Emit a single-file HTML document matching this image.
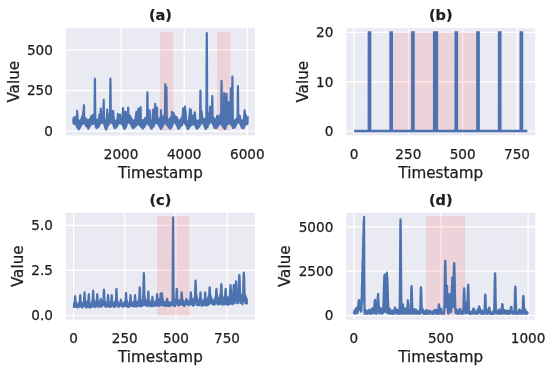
<!DOCTYPE html>
<html><head><meta charset="utf-8"><title>Figure</title>
<style>
html,body{margin:0;padding:0;background:#fff;}
svg{display:block;}
text{font-family:"DejaVu Sans","Liberation Sans",sans-serif;fill:#1e1e1e;stroke:#1e1e1e;stroke-width:0.25px;}
</style></head><body>
<svg width="550" height="372" viewBox="0 0 550 372">
<rect width="550" height="372" fill="#fff"/>
<rect x="65.8" y="28.1" width="189.2" height="107.30000000000001" fill="#eaeaf2"/>
<line x1="121.1" x2="121.1" y1="28.1" y2="135.4" stroke="#fff" stroke-width="1.3"/>
<line x1="184.2" x2="184.2" y1="28.1" y2="135.4" stroke="#fff" stroke-width="1.3"/>
<line x1="247.3" x2="247.3" y1="28.1" y2="135.4" stroke="#fff" stroke-width="1.3"/>
<line x1="65.8" x2="255.0" y1="49.95" y2="49.95" stroke="#fff" stroke-width="1.3"/>
<line x1="65.8" x2="255.0" y1="90.5" y2="90.5" stroke="#fff" stroke-width="1.3"/>
<line x1="65.8" x2="255.0" y1="131.05" y2="131.05" stroke="#fff" stroke-width="1.3"/>
<rect x="159.8" y="32.1" width="13.5" height="98.95000000000002" fill="#ff0000" fill-opacity="0.1"/>
<rect x="217.0" y="32.1" width="13.599999999999994" height="98.95000000000002" fill="#ff0000" fill-opacity="0.1"/>
<clipPath id="ca"><rect x="65.8" y="28.1" width="189.2" height="107.30000000000001"/></clipPath>
<polyline clip-path="url(#ca)" points="73.30,123.38 73.42,118.59 73.55,123.58 73.67,118.21 73.80,123.20 73.92,118.00 74.05,123.70 74.17,117.35 74.30,123.84 74.42,117.97 74.55,123.92 74.67,117.29 74.80,124.09 74.92,117.39 75.05,123.44 75.17,117.68 75.30,123.18 75.42,118.78 75.55,122.97 75.67,119.43 75.80,123.68 75.92,119.71 76.05,124.27 76.17,119.69 76.30,125.18 76.42,119.16 76.55,125.74 76.67,119.52 76.80,125.70 76.92,114.67 77.05,126.67 77.17,110.94 77.30,127.61 77.42,113.43 77.55,127.09 77.67,118.29 77.80,128.09 77.92,121.51 78.05,127.90 78.17,121.18 78.30,128.65 78.42,121.65 78.55,128.92 78.67,121.44 78.80,129.43 78.92,120.95 79.05,128.74 79.17,120.64 79.30,128.47 79.42,121.42 79.55,127.60 79.67,121.22 79.80,127.35 79.92,121.20 80.05,127.49 80.17,121.16 80.30,126.81 80.42,120.71 80.55,126.32 80.67,120.73 80.80,126.29 80.92,120.05 81.05,125.72 81.17,119.28 81.30,124.94 81.42,118.72 81.55,124.41 81.67,118.63 81.80,123.41 81.92,117.87 82.05,122.92 82.17,116.49 82.30,122.59 82.42,116.92 82.55,123.14 82.67,116.09 82.80,123.58 82.92,114.33 83.05,122.49 83.17,111.98 83.30,122.50 83.42,110.83 83.55,121.96 83.67,110.06 83.80,108.48 83.92,105.20 84.05,108.48 84.17,116.02 84.30,123.42 84.42,117.62 84.55,123.68 84.67,118.20 84.80,123.62 84.92,118.30 85.05,123.97 85.17,119.99 85.30,124.22 85.42,119.64 85.55,124.52 85.67,118.34 85.80,125.22 85.92,119.03 86.05,126.03 86.17,120.29 86.30,125.77 86.42,121.06 86.55,126.17 86.67,121.46 86.80,126.21 86.92,121.13 87.05,126.67 87.17,121.56 87.30,126.94 87.42,121.33 87.55,127.00 87.67,120.61 87.80,127.68 87.92,119.79 88.05,127.85 88.17,120.69 88.30,128.68 88.42,120.84 88.55,128.65 88.67,120.23 88.80,127.56 88.92,120.29 89.05,126.95 89.17,120.69 89.30,127.02 89.42,121.01 89.55,126.49 89.67,120.79 89.80,126.03 89.92,119.81 90.05,125.96 90.17,118.63 90.30,125.64 90.42,118.04 90.55,124.93 90.67,118.06 90.80,123.91 90.92,117.99 91.05,124.23 91.17,116.86 91.30,123.72 91.42,115.89 91.55,123.42 91.67,116.27 91.80,123.87 91.92,116.96 92.05,123.94 92.17,117.10 92.30,123.36 92.42,116.63 92.55,123.37 92.67,116.59 92.80,123.72 92.92,115.18 93.05,123.40 93.17,115.13 93.30,123.56 93.42,115.33 93.55,123.77 93.67,116.64 93.80,123.22 93.92,117.13 94.05,123.09 94.17,116.83 94.30,123.23 94.42,116.95 94.55,115.61 94.67,100.62 94.80,85.34 94.92,78.70 95.05,85.34 95.17,100.62 95.30,115.61 95.42,119.52 95.55,125.85 95.67,120.10 95.80,127.00 95.92,120.78 96.05,127.57 96.17,121.39 96.30,127.78 96.42,120.58 96.55,128.18 96.67,120.68 96.80,127.81 96.92,119.92 97.05,127.45 97.17,120.49 97.30,127.31 97.42,120.67 97.55,127.40 97.67,120.68 97.80,127.54 97.92,120.66 98.05,127.23 98.17,120.04 98.30,126.93 98.42,119.27 98.55,126.48 98.67,120.86 98.80,126.37 98.92,118.07 99.05,125.24 99.17,115.60 99.30,124.90 99.42,114.29 99.55,124.06 99.67,116.95 99.80,124.40 99.92,119.46 100.05,124.05 100.17,119.26 100.30,123.68 100.42,117.33 100.55,117.94 100.67,111.36 100.80,108.50 100.92,111.36 101.05,117.94 101.17,113.08 101.30,122.21 101.42,111.94 101.55,121.84 101.67,112.45 101.80,122.51 101.92,115.72 102.05,122.83 102.17,116.43 102.30,122.78 102.42,114.75 102.55,122.44 102.67,116.87 102.80,122.78 102.92,118.55 103.05,122.78 103.17,118.69 103.30,121.86 103.42,112.94 103.55,103.85 103.67,99.90 103.80,103.85 103.92,112.94 104.05,121.86 104.17,119.43 104.30,124.76 104.42,119.83 104.55,125.29 104.67,120.73 104.80,126.56 104.92,121.09 105.05,127.30 105.17,121.19 105.30,127.68 105.42,121.59 105.55,128.59 105.67,121.20 105.80,129.40 105.92,121.03 106.05,129.79 106.17,121.73 106.30,129.09 106.42,121.74 106.55,128.20 106.67,117.12 106.80,128.47 106.92,112.71 107.05,126.90 107.17,109.54 107.30,126.67 107.42,112.42 107.55,125.58 107.67,117.04 107.80,125.52 107.92,120.57 108.05,125.57 108.17,120.50 108.30,125.10 108.42,120.57 108.55,124.69 108.67,120.33 108.80,124.32 108.92,118.67 109.05,123.87 109.17,115.35 109.30,123.84 109.42,114.06 109.55,122.91 109.67,116.04 109.80,122.88 109.92,119.47 110.05,115.61 110.17,100.62 110.30,85.34 110.42,78.70 110.55,85.34 110.67,100.62 110.80,115.61 110.92,119.21 111.05,122.30 111.17,118.47 111.30,122.14 111.42,117.55 111.55,122.38 111.67,118.85 111.80,122.73 111.92,119.64 112.05,123.11 112.17,118.31 112.30,123.46 112.42,115.95 112.55,123.78 112.67,113.19 112.80,123.77 112.92,111.01 113.05,123.80 113.17,110.93 113.30,124.34 113.42,112.68 113.55,125.36 113.67,116.29 113.80,126.23 113.92,117.98 114.05,126.92 114.17,120.03 114.30,127.06 114.42,121.11 114.55,127.58 114.67,121.24 114.80,128.20 114.92,121.01 115.05,128.14 115.17,121.51 115.30,127.86 115.42,121.10 115.55,127.96 115.67,121.60 115.80,127.20 115.92,121.38 116.05,127.20 116.17,121.26 116.30,126.64 116.42,120.83 116.55,126.42 116.67,120.08 116.80,126.73 116.92,120.20 117.05,126.08 117.17,121.10 117.30,126.04 117.42,120.20 117.55,125.10 117.67,116.08 117.80,124.73 117.92,113.92 118.05,124.07 118.17,114.67 118.30,123.79 118.42,117.81 118.55,123.56 118.67,119.07 118.80,123.00 118.92,119.56 119.05,122.93 119.17,119.38 119.30,122.60 119.42,117.90 119.55,122.62 119.67,117.46 119.80,121.43 119.92,116.60 120.05,114.50 120.17,116.60 120.30,121.43 120.42,119.51 120.55,123.50 120.67,118.72 120.80,123.09 120.92,117.88 121.05,123.11 121.17,118.46 121.30,123.02 121.42,118.97 121.55,123.70 121.67,119.41 121.80,123.94 121.92,119.31 122.05,124.08 122.17,119.25 122.30,124.71 122.42,117.06 122.55,124.84 122.67,112.44 122.80,124.98 122.92,108.16 123.05,125.50 123.17,109.17 123.30,126.74 123.42,111.36 123.55,127.26 123.67,115.10 123.80,128.28 123.92,119.97 124.05,128.27 124.17,121.07 124.30,128.48 124.42,121.67 124.55,128.80 124.67,121.28 124.80,128.90 124.92,120.75 125.05,128.64 125.17,113.80 125.30,127.20 125.42,111.93 125.55,127.26 125.67,115.22 125.80,127.34 125.92,121.13 126.05,126.96 126.17,121.20 126.30,126.14 126.42,120.90 126.55,124.92 126.67,118.94 126.80,124.10 126.92,119.11 127.05,123.76 127.17,115.97 127.30,122.73 127.42,112.82 127.55,122.05 127.67,111.47 127.80,122.94 127.92,113.17 128.05,110.57 128.18,107.60 128.30,110.57 128.43,116.61 128.55,122.26 128.68,116.91 128.80,122.24 128.93,117.70 129.05,122.24 129.18,117.50 129.30,122.58 129.43,117.49 129.55,122.17 129.68,116.62 129.80,122.19 129.93,115.61 130.05,123.05 130.18,116.64 130.30,122.92 130.43,117.06 130.55,123.94 130.68,117.41 130.80,124.13 130.93,117.59 131.05,124.70 131.18,118.00 131.30,125.47 131.43,118.63 131.55,125.65 131.68,119.25 131.80,125.84 131.93,120.09 132.05,126.87 132.18,120.00 132.30,127.08 132.43,121.15 132.55,127.62 132.68,121.66 132.80,127.70 132.93,121.55 133.05,128.16 133.18,121.40 133.30,128.26 133.43,121.59 133.55,128.12 133.68,121.47 133.80,127.46 133.93,120.67 134.05,127.03 134.18,120.57 134.30,126.96 134.43,120.09 134.55,126.98 134.68,119.95 134.80,126.79 134.93,119.72 135.05,126.79 135.18,119.96 135.30,126.51 135.43,119.16 135.55,126.13 135.68,116.73 135.80,125.51 135.93,114.56 136.05,125.74 136.18,113.53 136.30,125.37 136.43,111.70 136.55,125.19 136.68,112.63 136.80,123.82 136.93,113.77 137.05,124.85 137.18,115.74 137.30,124.08 137.43,117.85 137.55,124.16 137.68,114.94 137.80,123.86 137.93,111.71 138.05,122.49 138.18,112.35 138.30,111.36 138.43,108.50 138.55,111.36 138.68,116.75 138.80,123.84 138.93,116.40 139.05,124.35 139.18,115.81 139.30,124.47 139.43,116.47 139.55,124.83 139.68,117.17 139.80,125.21 139.93,117.76 140.05,125.60 140.18,118.52 140.30,117.07 140.43,110.05 140.55,107.00 140.68,110.05 140.80,117.07 140.93,120.35 141.05,126.68 141.18,121.15 141.30,127.09 141.43,120.79 141.55,127.01 141.68,120.60 141.80,127.05 141.93,120.65 142.05,127.37 142.18,121.57 142.30,127.76 142.43,121.27 142.55,128.06 142.68,121.72 142.80,128.61 142.93,120.11 143.05,127.70 143.18,121.37 143.30,127.25 143.43,121.01 143.55,127.21 143.68,120.62 143.80,126.87 143.93,120.78 144.05,126.99 144.18,120.97 144.30,127.08 144.43,120.15 144.55,126.45 144.68,119.36 144.80,125.64 144.93,118.31 145.05,125.49 145.18,118.43 145.30,124.94 145.43,119.08 145.55,124.36 145.68,119.66 145.80,124.35 145.93,119.82 146.05,123.91 146.18,119.31 146.30,123.12 146.43,118.06 146.55,122.92 146.68,117.14 146.80,122.59 146.93,116.66 147.05,119.65 147.18,108.58 147.30,97.30 147.43,92.40 147.55,97.30 147.68,108.58 147.80,119.65 147.93,118.39 148.05,123.69 148.18,117.21 148.30,123.74 148.43,114.81 148.55,124.83 148.68,113.02 148.80,124.06 148.93,111.83 149.05,124.87 149.18,113.71 149.30,124.40 149.43,117.14 149.55,112.93 149.68,110.30 149.80,112.93 149.93,118.99 150.05,124.93 150.18,120.72 150.30,126.76 150.43,121.32 150.55,127.49 150.68,121.01 150.80,128.03 150.93,121.45 151.05,128.50 151.18,121.51 151.30,128.47 151.43,121.64 151.55,128.84 151.68,121.27 151.80,128.66 151.93,120.94 152.05,128.01 152.18,120.45 152.30,127.13 152.43,118.09 152.55,126.97 152.68,114.91 152.80,125.93 152.93,111.30 153.05,126.73 153.18,109.59 153.30,125.62 153.43,112.64 153.55,126.70 153.68,116.12 153.80,125.60 153.93,119.36 154.05,125.32 154.18,119.43 154.30,124.69 154.43,119.72 154.55,124.17 154.68,119.10 154.80,123.04 154.93,115.27 155.05,107.34 155.18,103.90 155.30,107.34 155.43,115.27 155.55,123.00 155.68,118.08 155.80,122.97 155.93,118.82 156.05,122.94 156.18,117.86 156.30,122.89 156.43,116.78 156.55,122.48 156.68,115.69 156.80,117.42 156.93,110.57 157.05,107.60 157.18,110.57 157.30,117.42 157.43,116.46 157.55,123.25 157.68,118.13 157.80,123.44 157.93,119.46 158.05,123.83 158.18,119.63 158.30,124.39 158.43,119.67 158.55,125.06 158.68,119.07 158.80,124.95 158.93,119.10 159.05,125.76 159.18,119.11 159.30,125.87 159.43,120.85 159.55,126.30 159.68,121.18 159.80,126.87 159.93,121.53 160.05,127.45 160.18,121.20 160.30,128.03 160.43,121.56 160.55,128.32 160.68,116.41 160.80,128.99 160.93,110.32 161.05,127.77 161.18,113.24 161.30,128.67 161.43,120.59 161.55,128.31 161.68,120.27 161.80,127.90 161.93,120.98 162.05,127.63 162.18,121.49 162.30,126.89 162.43,118.41 162.55,126.71 162.68,116.59 162.80,126.00 162.93,118.19 163.05,125.55 163.18,120.54 163.30,124.57 163.43,119.51 163.55,124.36 163.68,118.96 163.80,124.08 163.93,119.08 164.05,123.61 164.18,117.37 164.30,123.66 164.43,115.56 164.55,123.60 164.68,114.02 164.80,123.44 164.93,114.31 165.05,103.82 165.18,90.14 165.30,84.20 165.43,90.14 165.55,103.82 165.68,117.23 165.80,122.65 165.93,119.11 166.05,118.05 166.18,105.44 166.30,92.59 166.43,87.00 166.55,92.59 166.68,105.44 166.80,118.05 166.93,117.53 167.05,124.68 167.18,118.15 167.30,125.40 167.43,118.90 167.55,125.74 167.68,119.68 167.80,125.64 167.93,120.04 168.05,126.15 168.18,120.74 168.30,125.88 168.43,120.89 168.55,126.64 168.68,120.55 168.80,127.24 168.93,119.99 169.05,127.60 169.18,120.02 169.30,127.99 169.43,119.74 169.55,128.17 169.68,120.42 169.80,128.06 169.93,119.01 170.05,128.14 170.18,117.91 170.30,128.69 170.43,120.16 170.55,128.16 170.68,121.09 170.80,127.69 170.93,120.26 171.05,127.34 171.18,120.25 171.30,127.28 171.43,118.57 171.55,126.90 171.68,115.56 171.80,126.29 171.93,112.48 172.05,124.80 172.18,111.86 172.30,125.06 172.43,114.90 172.55,124.86 172.68,118.42 172.80,123.90 172.93,117.59 173.05,123.63 173.18,117.46 173.30,120.56 173.43,115.29 173.55,113.00 173.68,115.29 173.80,120.56 173.93,115.63 174.05,121.93 174.18,115.18 174.30,122.03 174.43,115.31 174.55,122.50 174.68,116.27 174.80,122.26 174.93,117.22 175.05,122.31 175.18,116.29 175.30,122.67 175.43,116.67 175.55,122.46 175.68,117.89 175.80,123.45 175.93,117.24 176.05,123.52 176.18,117.23 176.30,124.35 176.43,117.11 176.55,124.65 176.68,117.66 176.80,125.05 176.93,118.64 177.05,125.31 177.18,119.59 177.30,126.12 177.43,119.22 177.55,126.30 177.68,119.47 177.80,127.43 177.93,120.07 178.05,128.55 178.18,121.22 178.30,128.56 178.43,120.90 178.55,128.30 178.68,121.60 178.80,128.82 178.93,121.57 179.05,128.14 179.18,121.17 179.30,127.95 179.43,120.69 179.55,127.55 179.68,120.97 179.80,127.71 179.93,120.81 180.05,126.84 180.18,120.09 180.30,126.73 180.43,120.41 180.55,125.98 180.68,120.59 180.80,125.77 180.93,119.77 181.05,125.03 181.18,118.82 181.30,124.51 181.43,118.06 181.55,124.47 181.68,117.80 181.80,124.99 181.93,118.67 182.05,125.15 182.18,118.47 182.30,124.16 182.43,118.48 182.55,123.45 182.68,114.30 182.80,122.25 182.93,109.87 183.05,121.55 183.18,108.21 183.30,121.69 183.43,110.36 183.55,121.79 183.68,113.85 183.80,122.42 183.93,117.50 184.05,122.31 184.18,118.23 184.30,122.71 184.43,118.27 184.55,122.86 184.68,117.89 184.80,116.84 184.93,109.70 185.05,106.60 185.18,109.70 185.30,116.84 185.43,109.97 185.55,124.59 185.68,111.57 185.80,124.70 185.93,116.22 186.05,125.33 186.18,119.39 186.30,125.72 186.43,120.47 186.55,125.84 186.68,121.39 186.80,126.14 186.93,121.37 187.05,126.82 187.18,121.13 187.30,127.86 187.43,121.52 187.55,128.66 187.68,121.07 187.80,129.23 187.93,121.51 188.05,129.10 188.18,121.25 188.30,128.71 188.43,120.74 188.55,128.11 188.68,120.43 188.80,127.81 188.93,119.47 189.05,127.68 189.18,116.81 189.30,127.08 189.43,114.66 189.55,126.81 189.68,111.90 189.80,126.73 189.93,109.94 190.05,125.27 190.18,108.95 190.30,125.99 190.43,111.12 190.55,124.78 190.68,114.52 190.80,112.50 190.93,109.80 191.05,112.50 191.18,118.70 191.30,124.70 191.43,117.47 191.55,125.01 191.68,117.96 191.80,124.88 191.93,118.51 192.05,124.65 192.18,116.30 192.30,124.41 192.43,115.47 192.55,124.06 192.68,119.24 192.80,124.00 192.93,118.81 193.05,124.21 193.18,119.05 193.30,124.25 193.43,118.69 193.55,123.94 193.68,118.53 193.80,124.25 193.93,119.41 194.05,124.59 194.18,118.36 194.30,124.10 194.43,114.58 194.55,124.76 194.68,112.36 194.80,124.35 194.93,112.73 195.05,125.11 195.18,114.97 195.30,125.47 195.43,118.23 195.55,125.92 195.68,120.35 195.80,126.76 195.93,120.92 196.05,127.67 196.18,121.18 196.30,127.83 196.43,120.29 196.55,128.25 196.68,121.13 196.80,128.24 196.93,120.57 197.05,128.63 197.18,121.48 197.30,128.66 197.43,121.30 197.55,128.51 197.68,121.64 197.80,127.51 197.93,121.34 198.05,127.44 198.18,121.46 198.30,127.48 198.43,121.58 198.55,127.15 198.68,120.72 198.80,126.33 198.93,120.37 199.05,126.09 199.18,120.74 199.30,126.60 199.43,120.65 199.55,126.33 199.68,120.61 199.80,125.59 199.93,120.62 200.05,119.12 200.18,107.54 200.30,95.73 200.43,90.60 200.55,95.73 200.68,107.54 200.80,119.12 200.93,114.86 201.05,123.18 201.18,112.00 201.30,122.84 201.43,111.08 201.55,123.50 201.68,111.81 201.80,122.74 201.93,114.12 202.05,122.55 202.18,117.13 202.30,123.28 202.43,118.57 202.55,123.01 202.68,117.95 202.80,123.48 202.93,118.60 203.05,123.76 203.18,118.93 203.30,123.47 203.43,118.92 203.55,123.91 203.68,118.80 203.80,124.53 203.93,118.78 204.05,124.90 204.18,119.20 204.30,125.86 204.43,120.77 204.55,126.61 204.68,121.41 204.80,127.21 204.93,121.55 205.05,127.53 205.18,121.23 205.30,128.10 205.43,120.49 205.55,128.87 205.68,121.42 205.80,128.51 205.93,121.39 206.05,128.88 206.18,120.92 206.30,119.86 206.43,102.12 206.55,74.06 206.68,45.44 206.80,33.00 206.93,45.44 207.05,74.06 207.18,102.12 207.30,119.86 207.43,120.34 207.55,127.32 207.68,120.02 207.80,126.44 207.93,120.36 208.05,125.62 208.18,120.58 208.30,125.10 208.43,119.36 208.55,124.57 208.68,117.69 208.80,123.98 208.93,116.07 209.05,123.30 209.18,113.59 209.30,123.48 209.43,112.74 209.55,122.82 209.68,112.92 209.80,116.84 209.93,109.70 210.05,106.60 210.18,109.70 210.30,116.84 210.43,116.32 210.55,121.57 210.68,117.46 210.80,121.24 210.93,118.08 211.05,121.36 211.18,117.52 211.30,121.69 211.43,116.96 211.55,122.39 211.68,114.95 211.80,122.23 211.93,113.01 212.05,110.68 212.18,100.45 212.30,96.00 212.43,100.45 212.55,110.68 212.68,118.06 212.80,124.06 212.93,118.34 213.05,123.65 213.18,118.79 213.30,124.16 213.43,119.93 213.55,125.47 213.68,119.64 213.80,126.23 213.93,118.13 214.05,127.04 214.18,118.45 214.30,127.82 214.43,120.08 214.55,127.86 214.68,119.89 214.80,127.08 214.93,119.83 215.05,127.46 215.18,119.75 215.30,127.75 215.43,119.80 215.55,128.23 215.68,119.46 215.80,128.00 215.93,119.38 216.05,128.28 216.18,120.20 216.30,128.02 216.43,119.41 216.55,127.93 216.68,118.02 216.80,127.38 216.93,116.49 217.05,127.52 217.18,115.89 217.30,126.95 217.43,117.89 217.55,126.06 217.68,118.97 217.80,125.11 217.93,117.91 218.05,124.19 218.18,117.82 218.30,124.74 218.43,118.40 218.55,124.65 218.68,118.19 218.80,124.83 218.93,117.59 219.05,124.39 219.18,117.05 219.30,124.38 219.43,116.34 219.55,124.35 219.68,115.56 219.80,123.38 219.93,115.20 220.05,123.21 220.18,116.48 220.30,123.34 220.43,117.07 220.55,123.22 220.68,117.12 220.80,123.44 220.93,117.17 221.05,123.46 221.18,116.28 221.30,101.96 221.43,87.35 221.55,81.00 221.68,87.35 221.80,101.96 221.93,116.28 222.05,125.16 222.18,117.16 222.30,125.49 222.43,118.42 222.55,125.86 222.68,118.73 222.80,125.49 222.93,119.15 223.05,126.79 223.18,119.53 223.30,127.50 223.43,120.45 223.55,127.78 223.68,121.34 223.80,119.82 223.93,108.93 224.05,97.83 224.18,93.00 224.30,97.83 224.43,108.93 224.55,119.82 224.68,120.30 224.80,129.08 224.93,120.41 225.05,128.83 225.18,120.95 225.30,128.53 225.43,120.81 225.55,128.27 225.68,120.81 225.80,127.81 225.93,120.26 226.05,126.64 226.18,119.53 226.30,109.46 226.43,98.61 226.55,93.90 226.68,98.61 226.80,109.46 226.93,117.27 227.05,124.74 227.18,116.13 227.30,124.53 227.43,115.89 227.55,124.21 227.68,117.66 227.80,123.96 227.93,119.19 228.05,122.48 228.18,114.16 228.30,105.68 228.43,102.00 228.55,105.68 228.68,114.16 228.80,122.48 228.93,116.64 229.05,123.10 229.18,116.10 229.30,123.10 229.43,116.40 229.55,122.79 229.68,117.49 229.80,123.48 229.93,117.97 230.05,123.53 230.18,118.36 230.30,123.65 230.43,118.47 230.55,106.26 230.68,93.81 230.80,88.40 230.93,93.81 231.05,106.26 231.18,118.47 231.30,125.00 231.43,121.12 231.55,125.43 231.68,121.37 231.80,126.07 231.93,120.68 232.05,114.96 232.18,99.34 232.30,83.42 232.43,76.50 232.55,83.42 232.68,99.34 232.80,114.96 232.93,121.13 233.05,128.06 233.18,121.18 233.30,127.98 233.43,121.27 233.55,127.72 233.68,121.65 233.80,127.91 233.93,121.09 234.05,127.36 234.18,120.86 234.30,127.26 234.43,121.00 234.55,127.65 234.68,121.01 234.80,127.06 234.93,120.82 235.05,126.93 235.18,120.36 235.30,126.53 235.43,121.02 235.55,125.51 235.68,120.75 235.80,125.44 235.93,119.56 236.05,124.83 236.18,119.43 236.30,124.71 236.43,120.14 236.55,124.03 236.68,119.55 236.80,123.48 236.93,118.09 237.05,122.61 237.18,118.34 237.30,122.37 237.43,118.53 237.55,117.76 237.68,104.86 237.80,91.71 237.93,86.00 238.05,91.71 238.18,104.86 238.30,117.76 238.43,117.39 238.55,122.17 238.68,117.84 238.80,122.35 238.93,118.08 239.05,122.64 239.18,116.94 239.30,122.23 239.43,115.82 239.55,123.05 239.68,115.94 239.80,123.34 239.93,116.38 240.05,123.03 240.18,117.66 240.30,123.63 240.43,118.75 240.55,124.38 240.68,119.66 240.80,125.21 240.93,120.46 241.05,125.64 241.18,120.58 241.30,126.70 241.43,120.63 241.55,127.11 241.68,121.43 241.80,127.77 241.93,121.07 242.05,128.09 242.18,121.51 242.30,127.91 242.43,121.11 242.55,127.99 242.68,121.02 242.80,128.30 242.93,121.38 243.05,127.84 243.18,120.37 243.30,128.24 243.43,120.64 243.55,128.12 243.68,119.80 243.80,127.24 243.93,117.11 244.05,127.50 244.18,114.40 244.30,125.64 244.43,110.84 244.55,125.63 244.68,110.35 244.80,125.36 244.93,111.98 245.05,125.39 245.18,115.18 245.30,124.61 245.43,117.23 245.55,121.66 245.68,116.95 245.80,114.90 245.93,116.95 246.05,121.66 246.18,118.38 246.30,124.04 246.43,118.05 246.55,123.76 246.68,118.43 246.80,124.06 246.93,118.02 247.05,123.82 247.18,117.37 247.30,124.22 247.43,117.21 247.55,123.77 247.68,116.19" fill="none" stroke="#4c72b0" stroke-width="2.15" stroke-linejoin="round" stroke-linecap="butt"/>
<text x="160.4" y="19.7" text-anchor="middle" font-size="14.5" font-weight="bold">(a)</text>
<text x="121.1" y="159" text-anchor="middle" font-size="13.6">2000</text>
<text x="184.2" y="159" text-anchor="middle" font-size="13.6">4000</text>
<text x="247.3" y="159" text-anchor="middle" font-size="13.6">6000</text>
<text x="52.90" y="54.800000000000004" text-anchor="end" font-size="13.6">500</text>
<text x="52.90" y="95.35" text-anchor="end" font-size="13.6">250</text>
<text x="52.90" y="135.9" text-anchor="end" font-size="13.6">0</text>
<text x="160.4" y="177.7" text-anchor="middle" font-size="15.2">Timestamp</text>
<text transform="translate(19.2,81.75) rotate(-90)" text-anchor="middle" font-size="15.2">Value</text>
<rect x="346.3" y="28.1" width="188.90000000000003" height="107.30000000000001" fill="#eaeaf2"/>
<line x1="354.0" x2="354.0" y1="28.1" y2="135.4" stroke="#fff" stroke-width="1.3"/>
<line x1="408.35" x2="408.35" y1="28.1" y2="135.4" stroke="#fff" stroke-width="1.3"/>
<line x1="462.7" x2="462.7" y1="28.1" y2="135.4" stroke="#fff" stroke-width="1.3"/>
<line x1="517.05" x2="517.05" y1="28.1" y2="135.4" stroke="#fff" stroke-width="1.3"/>
<line x1="346.3" x2="535.2" y1="32.4" y2="32.4" stroke="#fff" stroke-width="1.3"/>
<line x1="346.3" x2="535.2" y1="81.75" y2="81.75" stroke="#fff" stroke-width="1.3"/>
<line x1="346.3" x2="535.2" y1="131.1" y2="131.1" stroke="#fff" stroke-width="1.3"/>
<rect x="393.6" y="32.4" width="82.59999999999997" height="98.69999999999999" fill="#ff0000" fill-opacity="0.1"/>
<clipPath id="cb"><rect x="346.3" y="28.1" width="188.90000000000003" height="107.30000000000001"/></clipPath>
<polyline clip-path="url(#cb)" points="354.00,131.10 368.88,131.10 368.90,32.40 370.10,32.40 370.12,131.10 390.58,131.10 390.60,32.40 391.80,32.40 391.82,131.10 412.28,131.10 412.30,32.40 413.50,32.40 413.52,131.10 434.18,131.10 434.20,32.40 434.90,32.40 434.92,131.10 436.18,131.10 436.20,32.40 436.90,32.40 436.92,131.10 455.68,131.10 455.70,32.40 456.90,32.40 456.92,131.10 477.38,131.10 477.40,32.40 478.60,32.40 478.62,131.10 499.08,131.10 499.10,32.40 500.30,32.40 500.32,131.10 520.78,131.10 520.80,32.40 522.00,32.40 522.02,131.10 527.40,131.10" fill="none" stroke="#4c72b0" stroke-width="2.5" stroke-linejoin="miter" stroke-linecap="butt"/>
<text x="440.75" y="19.7" text-anchor="middle" font-size="14.5" font-weight="bold">(b)</text>
<text x="354.0" y="159" text-anchor="middle" font-size="13.6">0</text>
<text x="408.35" y="159" text-anchor="middle" font-size="13.6">250</text>
<text x="462.7" y="159" text-anchor="middle" font-size="13.6">500</text>
<text x="517.05" y="159" text-anchor="middle" font-size="13.6">750</text>
<text x="333.40" y="37.25" text-anchor="end" font-size="13.6">20</text>
<text x="333.40" y="86.6" text-anchor="end" font-size="13.6">10</text>
<text x="333.40" y="135.95" text-anchor="end" font-size="13.6">0</text>
<text x="440.75" y="177.7" text-anchor="middle" font-size="15.2">Timestamp</text>
<text transform="translate(307.8,81.75) rotate(-90)" text-anchor="middle" font-size="15.2">Value</text>
<rect x="65.8" y="212.8" width="189.2" height="106.89999999999998" fill="#eaeaf2"/>
<line x1="73.6" x2="73.6" y1="212.8" y2="319.7" stroke="#fff" stroke-width="1.3"/>
<line x1="124.75" x2="124.75" y1="212.8" y2="319.7" stroke="#fff" stroke-width="1.3"/>
<line x1="175.89999999999998" x2="175.89999999999998" y1="212.8" y2="319.7" stroke="#fff" stroke-width="1.3"/>
<line x1="227.04999999999998" x2="227.04999999999998" y1="212.8" y2="319.7" stroke="#fff" stroke-width="1.3"/>
<line x1="65.8" x2="255.0" y1="225.3" y2="225.3" stroke="#fff" stroke-width="1.3"/>
<line x1="65.8" x2="255.0" y1="270.45" y2="270.45" stroke="#fff" stroke-width="1.3"/>
<line x1="65.8" x2="255.0" y1="315.6" y2="315.6" stroke="#fff" stroke-width="1.3"/>
<rect x="157.0" y="216.0" width="32.30000000000001" height="99.60000000000002" fill="#ff0000" fill-opacity="0.1"/>
<clipPath id="cc"><rect x="65.8" y="212.8" width="189.2" height="106.89999999999998"/></clipPath>
<polyline clip-path="url(#cc)" points="73.90,308.01 74.10,303.20 74.31,306.93 74.51,303.20 74.72,302.64 74.92,297.94 75.13,296.02 75.33,297.94 75.54,302.64 75.74,301.09 75.94,306.66 76.15,302.48 76.35,306.72 76.56,303.95 76.76,306.90 76.97,304.45 77.17,307.09 77.38,305.22 77.58,307.33 77.79,304.87 77.99,307.21 78.19,304.55 78.40,306.52 78.60,304.22 78.81,306.26 79.01,302.80 79.22,306.04 79.42,301.91 79.63,306.65 79.83,301.86 80.03,297.11 80.24,295.11 80.44,297.11 80.65,301.02 80.85,305.38 81.06,302.38 81.26,306.15 81.47,303.52 81.67,307.16 81.88,304.16 82.08,307.37 82.28,304.98 82.49,307.30 82.69,304.21 82.90,307.21 83.10,303.95 83.31,306.28 83.51,301.97 83.72,305.90 83.92,301.71 84.12,300.21 84.33,294.64 84.53,292.36 84.74,294.64 84.94,300.21 85.15,301.28 85.35,306.10 85.56,301.33 85.76,306.40 85.97,303.39 86.17,307.66 86.37,305.18 86.58,307.14 86.78,304.98 86.99,307.04 87.19,304.45 87.40,306.95 87.60,302.28 87.81,306.52 88.01,300.61 88.21,306.86 88.42,300.82 88.62,296.28 88.83,294.19 89.03,296.28 89.24,300.96 89.44,306.35 89.65,303.46 89.85,307.78 90.06,304.07 90.26,307.44 90.46,303.98 90.67,306.92 90.87,304.43 91.08,306.73 91.28,304.07 91.49,307.28 91.69,302.71 91.90,306.33 92.10,301.50 92.30,305.74 92.51,301.01 92.71,298.95 92.92,292.97 93.12,290.53 93.33,292.97 93.53,298.95 93.74,299.68 93.94,306.69 94.15,300.74 94.35,307.00 94.55,303.19 94.76,306.66 94.96,303.51 95.17,307.00 95.37,303.99 95.58,306.61 95.78,303.22 95.99,306.65 96.19,301.50 96.39,305.68 96.60,301.92 96.80,301.35 97.01,296.26 97.21,294.19 97.42,296.26 97.62,301.35 97.83,300.23 98.03,305.59 98.24,301.70 98.44,306.83 98.64,302.82 98.85,306.14 99.05,303.57 99.26,306.27 99.46,303.62 99.67,306.18 99.87,303.13 100.08,306.52 100.28,301.98 100.48,300.38 100.69,298.76 100.89,300.38 101.10,302.72 101.30,306.27 101.51,302.81 101.71,306.74 101.92,303.24 102.12,305.49 102.33,302.25 102.53,305.36 102.73,301.08 102.94,304.44 103.14,300.57 103.35,304.50 103.55,298.03 103.76,292.11 103.96,289.62 104.17,292.11 104.37,298.24 104.57,305.11 104.78,300.99 104.98,306.19 105.19,302.32 105.39,305.78 105.60,303.74 105.80,306.12 106.01,303.97 106.21,306.82 106.42,303.28 106.62,306.30 106.82,303.46 107.03,305.58 107.23,302.29 107.44,305.84 107.64,300.70 107.85,297.06 108.05,295.11 108.26,297.06 108.46,300.53 108.66,306.61 108.87,301.78 109.07,306.19 109.28,303.42 109.48,306.49 109.69,303.45 109.89,306.65 110.10,303.90 110.30,306.56 110.51,302.88 110.71,305.99 110.91,301.42 111.12,306.78 111.32,301.83 111.53,297.04 111.73,295.11 111.94,297.04 112.14,301.79 112.35,305.76 112.55,302.04 112.75,305.68 112.96,302.85 113.16,305.93 113.37,303.59 113.57,306.66 113.78,303.91 113.98,306.82 114.19,304.02 114.39,306.64 114.60,303.90 114.80,306.63 115.00,301.87 115.21,306.82 115.41,301.96 115.62,305.16 115.82,300.58 116.03,297.46 116.23,291.23 116.44,288.71 116.64,291.23 116.84,297.46 117.05,300.23 117.25,304.89 117.46,300.83 117.66,305.65 117.87,302.70 118.07,306.81 118.28,303.00 118.48,306.77 118.69,304.20 118.89,306.42 119.09,304.10 119.30,306.38 119.50,303.60 119.71,306.27 119.91,302.98 120.12,305.62 120.32,302.66 120.53,304.81 120.73,301.15 120.93,299.68 121.14,301.15 121.34,304.81 121.55,302.13 121.75,305.56 121.96,303.23 122.16,306.34 122.37,303.95 122.57,306.59 122.78,304.13 122.98,306.14 123.18,304.02 123.39,306.40 123.59,303.90 123.80,306.08 124.00,303.09 124.21,305.49 124.41,302.30 124.62,306.01 124.82,301.49 125.02,305.73 125.23,301.92 125.43,306.05 125.64,300.00 125.84,294.99 126.05,292.91 126.25,294.99 126.46,299.93 126.66,305.45 126.87,300.63 127.07,306.66 127.27,302.28 127.48,306.51 127.68,303.34 127.89,306.61 128.09,304.54 128.30,306.36 128.50,304.26 128.71,306.17 128.91,304.21 129.11,306.94 129.32,303.33 129.52,305.55 129.73,301.76 129.93,305.45 130.14,301.58 130.34,296.96 130.55,295.11 130.75,296.96 130.96,301.07 131.16,305.17 131.36,301.65 131.57,306.06 131.77,303.15 131.98,305.96 132.18,302.85 132.39,305.88 132.59,303.25 132.80,305.44 133.00,302.93 133.20,305.59 133.41,302.83 133.61,305.96 133.82,302.02 134.02,305.44 134.23,301.29 134.43,306.78 134.64,301.51 134.84,296.94 135.05,295.11 135.25,296.94 135.45,300.00 135.66,305.20 135.86,301.51 136.07,305.70 136.27,301.89 136.48,306.49 136.68,303.23 136.89,306.45 137.09,303.16 137.29,305.29 137.50,303.47 137.70,306.04 137.91,302.65 138.11,305.04 138.32,301.33 138.52,305.98 138.73,299.92 138.93,305.81 139.14,298.90 139.34,295.99 139.54,289.74 139.75,287.24 139.95,289.74 140.16,295.99 140.36,296.90 140.57,306.40 140.77,299.71 140.98,304.56 141.18,301.77 141.38,306.21 141.59,302.35 141.79,306.06 142.00,302.84 142.20,305.77 142.41,300.66 142.61,305.40 142.82,300.40 143.02,305.15 143.23,296.89 143.43,286.11 143.63,276.86 143.84,273.17 144.04,276.86 144.25,286.11 144.45,296.89 144.66,304.98 144.86,297.45 145.07,304.75 145.27,300.31 145.47,304.44 145.68,302.03 145.88,305.41 146.09,302.41 146.29,305.52 146.50,302.07 146.70,305.20 146.91,302.08 147.11,306.06 147.32,299.94 147.52,305.57 147.72,300.49 147.93,298.72 148.13,293.52 148.34,291.45 148.54,293.52 148.75,298.72 148.95,301.10 149.16,305.57 149.36,300.72 149.56,305.95 149.77,302.58 149.97,306.27 150.18,302.83 150.38,305.46 150.59,303.28 150.79,305.91 151.00,302.57 151.20,304.85 151.41,302.31 151.61,306.16 151.81,300.79 152.02,302.48 152.22,298.51 152.43,296.93 152.63,298.51 152.84,302.48 153.04,300.81 153.25,306.23 153.45,301.37 153.65,305.69 153.86,302.27 154.06,304.98 154.27,302.52 154.47,305.51 154.68,303.26 154.88,305.21 155.09,302.77 155.29,305.76 155.50,302.32 155.70,304.94 155.90,302.23 156.11,305.68 156.31,300.29 156.52,305.10 156.72,300.31 156.93,295.97 157.13,294.19 157.34,295.97 157.54,299.77 157.74,305.77 157.95,300.05 158.15,305.28 158.36,301.74 158.56,305.18 158.77,302.55 158.97,304.91 159.18,302.09 159.38,305.81 159.59,299.93 159.79,304.62 159.99,298.71 160.20,305.23 160.40,299.72 160.61,295.10 160.81,293.28 161.02,295.10 161.22,299.72 161.43,304.99 161.63,299.70 161.83,295.09 162.04,293.28 162.24,295.09 162.45,299.26 162.65,304.82 162.86,299.46 163.06,305.52 163.27,301.04 163.47,305.74 163.68,302.13 163.88,304.87 164.08,301.84 164.29,305.48 164.49,302.41 164.70,305.30 164.90,302.73 165.11,305.58 165.31,303.00 165.52,305.84 165.72,302.64 165.92,306.13 166.13,301.83 166.33,305.86 166.54,301.74 166.74,303.51 166.95,300.10 167.15,298.76 167.36,300.10 167.56,303.51 167.77,302.45 167.97,305.45 168.17,301.94 168.38,305.92 168.58,302.22 168.79,305.00 168.99,302.19 169.20,305.43 169.40,303.51 169.61,305.84 169.81,302.92 170.01,305.99 170.22,303.26 170.42,305.58 170.63,303.44 170.83,305.29 171.04,303.51 171.24,305.22 171.45,302.86 171.65,304.65 171.86,301.89 172.06,305.18 172.26,300.07 172.47,304.32 172.67,284.43 172.88,241.89 173.08,217.41 173.29,241.89 173.49,284.43 173.70,303.72 173.90,300.34 174.10,305.70 174.31,302.49 174.51,305.52 174.72,302.46 174.92,306.24 175.13,302.54 175.33,305.53 175.54,300.15 175.74,303.66 175.95,299.24 176.15,302.42 176.35,296.01 176.56,290.76 176.76,288.71 176.97,290.76 177.17,296.01 177.38,302.42 177.58,299.55 177.79,305.02 177.99,300.96 178.19,304.43 178.40,301.18 178.60,305.50 178.81,301.84 179.01,304.93 179.22,301.85 179.42,304.48 179.63,301.88 179.83,304.48 180.04,300.38 180.24,304.68 180.44,299.85 180.65,304.62 180.85,299.66 181.06,304.02 181.26,298.55 181.47,294.09 181.67,292.36 181.88,294.09 182.08,298.55 182.28,304.02 182.49,299.18 182.69,304.89 182.90,300.86 183.10,305.21 183.31,301.65 183.51,305.24 183.72,303.17 183.92,305.59 184.13,303.62 184.33,306.28 184.53,302.52 184.74,305.57 184.94,301.71 185.15,304.93 185.35,301.56 185.56,303.79 185.76,300.59 185.97,303.15 186.17,299.99 186.37,298.76 186.58,299.99 186.78,303.15 186.99,300.45 187.19,304.35 187.40,300.64 187.60,304.22 187.81,301.89 188.01,304.02 188.22,301.79 188.42,304.89 188.62,301.76 188.83,305.11 189.03,301.15 189.24,304.56 189.44,301.24 189.65,304.78 189.85,300.41 190.06,303.68 190.26,299.75 190.46,298.30 190.67,294.02 190.87,292.36 191.08,294.02 191.28,298.30 191.49,299.23 191.69,304.38 191.90,298.68 192.10,304.76 192.31,300.58 192.51,305.27 192.71,302.49 192.92,305.64 193.12,301.65 193.33,305.45 193.53,301.42 193.74,304.67 193.94,299.87 194.15,304.89 194.35,298.01 194.55,302.51 194.76,297.12 194.96,297.22 195.17,289.26 195.37,282.92 195.58,280.48 195.78,282.92 195.99,289.26 196.19,297.22 196.40,294.45 196.60,304.22 196.80,296.49 197.01,305.15 197.21,299.32 197.42,304.39 197.62,300.74 197.83,304.05 198.03,301.25 198.24,305.03 198.44,301.31 198.64,304.60 198.85,301.74 199.05,305.29 199.26,300.64 199.46,303.87 199.67,298.66 199.87,303.23 200.08,297.60 200.28,293.94 200.49,292.36 200.69,293.94 200.89,298.04 201.10,303.23 201.30,298.85 201.51,305.86 201.71,300.87 201.92,304.56 202.12,301.58 202.33,304.69 202.53,301.67 202.73,304.98 202.94,301.78 203.14,305.06 203.35,301.97 203.55,304.49 203.76,300.53 203.96,304.30 204.17,300.68 204.37,305.17 204.58,298.66 204.78,297.91 204.98,293.90 205.19,292.36 205.39,293.90 205.60,297.91 205.80,298.69 206.01,303.71 206.21,300.47 206.42,305.48 206.62,301.22 206.82,304.88 207.03,301.36 207.23,304.92 207.44,300.42 207.64,305.07 207.85,298.83 208.05,303.21 208.26,297.38 208.46,302.90 208.67,296.68 208.87,304.39 209.07,295.81 209.28,293.86 209.48,289.07 209.69,287.24 209.89,289.07 210.10,293.86 210.30,295.69 210.51,302.41 210.71,296.05 210.91,303.25 211.12,297.27 211.32,303.46 211.53,299.31 211.73,303.02 211.94,299.91 212.14,303.77 212.35,300.15 212.55,304.04 212.76,301.92 212.96,304.27 213.16,301.25 213.37,304.48 213.57,300.91 213.78,304.74 213.98,301.08 214.19,300.67 214.39,299.68 214.60,300.67 214.80,300.48 215.00,304.33 215.21,297.79 215.41,303.14 215.62,297.09 215.82,300.46 216.03,294.77 216.23,290.37 216.44,288.71 216.64,290.37 216.85,294.77 217.05,300.46 217.25,297.40 217.46,304.06 217.66,299.50 217.87,304.37 218.07,298.76 218.28,303.41 218.48,298.87 218.69,303.76 218.89,299.46 219.09,302.97 219.30,298.20 219.50,304.01 219.71,296.39 219.91,302.14 220.12,295.47 220.32,304.07 220.53,293.65 220.73,297.59 220.94,291.05 221.14,286.03 221.34,284.14 221.55,286.03 221.75,291.05 221.96,297.59 222.16,295.75 222.37,304.70 222.57,297.24 222.78,304.50 222.98,298.38 223.18,304.45 223.39,298.66 223.59,303.25 223.80,299.44 224.00,303.42 224.21,299.46 224.41,302.72 224.62,297.55 224.82,304.23 225.03,296.56 225.23,294.48 225.43,290.28 225.64,288.71 225.84,290.28 226.05,294.48 226.25,297.41 226.46,302.99 226.66,296.79 226.87,304.46 227.07,298.86 227.27,304.71 227.48,301.39 227.68,304.13 227.89,300.53 228.09,304.73 228.30,300.43 228.50,304.01 228.71,297.99 228.91,302.10 229.12,296.91 229.32,304.16 229.52,297.25 229.73,303.44 229.93,293.92 230.14,291.43 230.34,286.79 230.55,285.05 230.75,286.79 230.96,291.43 231.16,294.44 231.36,303.63 231.57,297.07 231.77,303.88 231.98,297.99 232.18,303.71 232.39,296.61 232.59,304.26 232.80,296.96 233.00,303.01 233.21,294.24 233.41,291.31 233.61,286.75 233.82,285.05 234.02,286.75 234.23,291.31 234.43,293.15 234.64,303.31 234.84,294.40 235.05,300.98 235.25,291.60 235.45,295.04 235.66,288.32 235.86,283.27 236.07,281.39 236.27,283.27 236.48,288.32 236.68,295.04 236.89,292.77 237.09,303.01 237.30,294.46 237.50,303.33 237.70,297.55 237.91,303.02 238.11,294.56 238.32,300.99 238.52,293.98 238.73,290.93 238.93,283.06 239.14,277.18 239.34,275.00 239.54,277.18 239.75,283.06 239.95,290.93 240.16,294.07 240.36,302.96 240.57,295.91 240.77,302.76 240.98,294.76 241.18,301.54 241.39,297.38 241.59,301.99 241.79,298.40 242.00,302.44 242.20,296.15 242.41,304.47 242.61,294.66 242.82,302.12 243.02,294.62 243.23,289.10 243.43,280.93 243.63,274.87 243.84,272.62 244.04,274.87 244.25,280.93 244.45,289.10 244.66,294.84 244.86,300.98 245.07,295.11 245.27,303.28 245.48,295.67 245.68,303.27 245.88,296.92 246.09,302.33 246.29,298.85 246.50,303.24 246.70,298.83 246.91,303.52 247.11,302.96" fill="none" stroke="#4c72b0" stroke-width="2.15" stroke-linejoin="round" stroke-linecap="butt"/>
<text x="160.4" y="204.6" text-anchor="middle" font-size="14.5" font-weight="bold">(c)</text>
<text x="73.6" y="343.3" text-anchor="middle" font-size="13.6">0</text>
<text x="124.75" y="343.3" text-anchor="middle" font-size="13.6">250</text>
<text x="175.89999999999998" y="343.3" text-anchor="middle" font-size="13.6">500</text>
<text x="227.04999999999998" y="343.3" text-anchor="middle" font-size="13.6">750</text>
<text x="52.90" y="230.15" text-anchor="end" font-size="13.6">5.0</text>
<text x="52.90" y="275.3" text-anchor="end" font-size="13.6">2.5</text>
<text x="52.90" y="320.45000000000005" text-anchor="end" font-size="13.6">0.0</text>
<text x="160.4" y="362.1" text-anchor="middle" font-size="15.2">Timestamp</text>
<text transform="translate(23.2,266.25) rotate(-90)" text-anchor="middle" font-size="15.2">Value</text>
<rect x="346.2" y="212.8" width="189.00000000000006" height="106.89999999999998" fill="#eaeaf2"/>
<line x1="353.8" x2="353.8" y1="212.8" y2="319.7" stroke="#fff" stroke-width="1.3"/>
<line x1="440.95000000000005" x2="440.95000000000005" y1="212.8" y2="319.7" stroke="#fff" stroke-width="1.3"/>
<line x1="528.1" x2="528.1" y1="212.8" y2="319.7" stroke="#fff" stroke-width="1.3"/>
<line x1="346.2" x2="535.2" y1="226.75" y2="226.75" stroke="#fff" stroke-width="1.3"/>
<line x1="346.2" x2="535.2" y1="271.15" y2="271.15" stroke="#fff" stroke-width="1.3"/>
<line x1="346.2" x2="535.2" y1="315.55" y2="315.55" stroke="#fff" stroke-width="1.3"/>
<rect x="426.1" y="216.0" width="39.0" height="99.55000000000001" fill="#ff0000" fill-opacity="0.1"/>
<clipPath id="cd"><rect x="346.2" y="212.8" width="189.00000000000006" height="106.89999999999998"/></clipPath>
<polyline clip-path="url(#cd)" points="353.90,313.54 354.07,312.46 354.25,313.45 354.42,311.36 354.60,313.47 354.77,310.17 354.95,313.32 355.12,310.38 355.30,313.37 355.47,310.27 355.65,313.37 355.82,310.27 356.00,311.85 356.17,308.71 356.35,310.02 356.52,307.80 356.70,310.24 356.87,308.68 357.04,311.08 357.22,310.31 357.39,313.19 357.57,311.39 357.74,312.07 357.92,309.25 358.09,310.04 358.27,305.43 358.44,307.75 358.62,301.38 358.79,305.51 358.97,300.13 359.14,306.17 359.32,301.37 359.49,306.44 359.67,305.16 359.84,309.65 360.01,307.37 360.19,308.41 360.36,304.57 360.54,308.16 360.71,307.56 360.89,311.25 361.06,311.51 361.24,310.58 361.41,310.68 361.59,297.94 361.76,304.59 361.94,285.30 362.11,288.85 362.29,272.66 362.46,299.54 362.63,260.03 362.81,300.01 362.98,247.39 363.16,270.99 363.33,234.75 363.51,279.94 363.68,222.11 363.86,265.63 364.03,216.90 364.21,268.09 364.38,294.47 364.56,312.64 364.73,313.71 364.91,311.60 365.08,313.21 365.26,310.99 365.43,313.53 365.60,310.78 365.78,313.44 365.95,310.42 366.13,313.68 366.30,310.75 366.48,313.47 366.65,310.67 366.83,313.22 367.00,311.40 367.18,313.56 367.35,310.84 367.53,313.02 367.70,311.20 367.88,313.10 368.05,311.55 368.23,313.50 368.40,311.24 368.57,313.42 368.75,311.29 368.92,312.10 369.10,310.45 369.27,312.22 369.45,309.69 369.62,311.69 369.80,310.43 369.97,312.47 370.15,311.40 370.32,313.39 370.50,312.54 370.67,313.78 370.85,312.64 371.02,313.61 371.20,312.14 371.37,312.44 371.54,310.54 371.72,311.42 371.89,309.34 372.07,310.83 372.24,308.47 372.42,310.89 372.59,308.70 372.77,311.36 372.94,310.62 373.12,312.82 373.29,311.55 373.47,313.51 373.64,310.98 373.82,313.29 373.99,309.96 374.17,310.82 374.34,304.95 374.51,306.39 374.69,300.85 374.86,304.78 375.04,299.96 375.21,306.28 375.39,305.40 375.56,309.87 375.74,310.11 375.91,313.47 376.09,312.59 376.26,313.77 376.44,312.95 376.61,313.65 376.79,310.87 376.96,311.24 377.14,305.18 377.31,306.30 377.48,299.77 377.66,301.69 377.83,296.05 378.01,302.49 378.18,293.91 378.36,303.69 378.53,299.99 378.71,307.81 378.88,305.93 379.06,311.34 379.23,310.78 379.41,313.53 379.58,311.15 379.76,311.60 379.93,308.98 380.10,310.88 380.28,308.12 380.45,309.68 380.63,308.22 380.80,310.69 380.98,309.17 381.15,311.69 381.33,311.05 381.50,313.07 381.68,312.35 381.85,313.49 382.03,312.29 382.20,313.53 382.38,311.66 382.55,313.32 382.73,311.37 382.90,312.77 383.07,310.90 383.25,308.18 383.42,304.47 383.60,299.79 383.77,294.31 383.95,288.44 384.12,282.77 384.30,278.00 384.47,274.82 384.65,311.02 384.82,274.82 385.00,310.48 385.17,274.80 385.35,312.12 385.52,277.88 385.70,309.64 385.87,280.05 386.04,310.16 386.22,281.03 386.39,312.21 386.57,277.11 386.74,311.28 386.92,272.70 387.09,312.81 387.27,277.11 387.44,281.98 387.62,287.79 387.79,293.80 387.97,299.41 388.14,304.21 388.32,308.00 388.49,310.79 388.67,310.83 388.84,313.72 389.01,311.43 389.19,312.25 389.36,309.03 389.54,310.51 389.71,308.93 389.89,311.56 390.06,311.04 390.24,313.47 390.41,311.55 390.59,313.10 390.76,310.74 390.94,313.62 391.11,311.46 391.29,313.00 391.46,310.81 391.64,313.59 391.81,311.16 391.98,313.32 392.16,310.73 392.33,313.73 392.51,311.76 392.68,313.72 392.86,312.49 393.03,313.69 393.21,312.89 393.38,313.81 393.56,312.52 393.73,313.39 393.91,312.13 394.08,312.67 394.26,309.81 394.43,311.55 394.61,308.67 394.78,310.09 394.95,307.43 395.13,310.18 395.30,308.72 395.48,310.90 395.65,309.91 395.83,312.86 396.00,312.05 396.18,313.50 396.35,312.90 396.53,313.51 396.70,312.60 396.88,313.31 397.05,311.32 397.23,312.12 397.40,309.73 397.57,311.19 397.75,309.91 397.92,312.06 398.10,311.29 398.27,313.27 398.45,312.72 398.62,313.69 398.80,312.77 398.97,313.59 399.15,312.73 399.32,313.74 399.50,312.52 399.67,308.70 399.85,297.82 400.02,278.41 400.20,252.55 400.37,229.04 400.54,219.40 400.72,229.04 400.89,252.55 401.07,278.41 401.24,297.82 401.42,308.70 401.59,312.74 401.77,313.77 401.94,311.58 402.12,311.72 402.29,307.35 402.47,308.57 402.64,304.75 402.82,308.27 402.99,304.55 403.17,309.75 403.34,307.78 403.51,312.08 403.69,311.75 403.86,313.53 404.04,312.40 404.21,313.61 404.39,311.69 404.56,312.57 404.74,309.69 404.91,310.93 405.09,308.47 405.26,310.88 405.44,309.89 405.61,312.17 405.79,311.66 405.96,313.64 406.14,311.87 406.31,313.32 406.48,312.13 406.66,313.15 406.83,311.87 407.01,313.56 407.18,310.16 407.36,309.94 407.53,304.49 407.71,305.88 407.88,300.32 408.06,306.14 408.23,303.37 408.41,309.66 408.58,310.29 408.76,313.54 408.93,311.49 409.11,313.62 409.28,311.89 409.45,313.55 409.63,311.96 409.80,313.56 409.98,312.24 410.15,313.52 410.33,312.38 410.50,313.16 410.68,311.90 410.85,308.17 411.03,302.03 411.20,294.71 411.38,288.54 411.55,286.10 411.73,288.54 411.90,294.71 412.08,302.03 412.25,308.17 412.42,312.16 412.60,313.80 412.77,312.36 412.95,313.52 413.12,312.39 413.30,313.05 413.47,311.55 413.65,312.01 413.82,310.01 414.00,311.97 414.17,309.14 414.35,311.46 414.52,310.13 414.70,312.34 414.87,311.53 415.04,313.47 415.22,311.79 415.39,313.41 415.57,311.39 415.74,313.53 415.92,309.60 416.09,313.39 416.27,310.23 416.44,313.66 416.62,311.03 416.79,313.15 416.97,310.98 417.14,313.06 417.32,311.22 417.49,313.50 417.67,311.06 417.84,313.24 418.01,311.58 418.19,313.27 418.36,311.63 418.54,313.25 418.71,311.55 418.89,313.25 419.06,311.96 419.24,313.80 419.41,312.18 419.59,313.63 419.76,311.87 419.94,313.67 420.11,311.97 420.29,308.47 420.46,302.58 420.64,295.56 420.81,289.64 420.98,287.30 421.16,289.64 421.33,295.56 421.51,302.58 421.68,308.47 421.86,312.30 422.03,312.60 422.21,310.57 422.38,311.61 422.56,308.99 422.73,311.44 422.91,310.36 423.08,313.04 423.26,312.21 423.43,313.46 423.61,312.39 423.78,313.74 423.95,312.03 424.13,313.28 424.30,311.52 424.48,313.01 424.65,311.28 424.83,313.86 425.00,311.52 425.18,312.97 425.35,310.88 425.53,313.03 425.70,311.50 425.88,313.62 426.05,310.87 426.23,313.83 426.40,310.29 426.58,313.30 426.75,310.19 426.92,313.14 427.10,310.87 427.27,312.91 427.45,311.28 427.62,313.38 427.80,311.40 427.97,313.26 428.15,311.27 428.32,313.47 428.50,311.46 428.67,313.67 428.85,311.60 429.02,313.43 429.20,311.52 429.37,313.52 429.55,310.78 429.72,313.28 429.89,311.49 430.07,313.08 430.24,311.20 430.42,313.27 430.59,311.91 430.77,313.23 430.94,311.72 431.12,313.43 431.29,312.08 431.47,313.70 431.64,312.30 431.82,313.55 431.99,312.13 432.17,313.58 432.34,311.90 432.51,313.70 432.69,312.28 432.86,313.75 433.04,311.62 433.21,313.84 433.39,311.37 433.56,313.68 433.74,311.15 433.91,312.68 434.09,310.33 434.26,312.69 434.44,310.20 434.61,312.61 434.79,310.67 434.96,313.39 435.14,310.56 435.31,312.91 435.48,310.61 435.66,313.14 435.83,310.74 436.01,312.52 436.18,309.94 436.36,312.01 436.53,310.26 436.71,312.78 436.88,310.60 437.06,313.80 437.23,311.50 437.41,313.51 437.58,311.28 437.76,313.85 437.93,311.81 438.11,313.77 438.28,311.09 438.45,311.38 438.63,307.04 438.80,308.36 438.98,304.52 439.15,309.21 439.33,306.37 439.50,311.56 439.68,311.17 439.85,313.59 440.03,312.92 440.20,313.49 440.38,312.18 440.55,312.05 440.73,309.72 440.90,310.73 441.08,308.92 441.25,310.61 441.42,309.24 441.60,312.27 441.77,311.57 441.95,313.39 442.12,312.32 442.30,313.59 442.47,312.66 442.65,313.64 442.82,312.62 443.00,313.66 443.17,312.32 443.35,313.85 443.52,312.24 443.70,313.72 443.87,311.91 444.05,313.73 444.22,311.71 444.39,307.26 444.57,299.21 444.74,287.86 444.92,275.20 445.09,264.96 445.27,261.00 445.44,264.96 445.62,275.20 445.79,287.86 445.97,299.21 446.14,307.26 446.32,305.08 446.49,304.06 446.67,291.80 446.84,298.57 447.02,285.88 447.19,298.81 447.36,292.17 447.54,304.87 447.71,304.77 447.89,311.18 448.06,312.23 448.24,313.64 448.41,312.68 448.59,313.44 448.76,312.30 448.94,312.22 449.11,308.27 449.29,307.34 449.46,299.20 449.64,303.88 449.81,294.24 449.98,301.97 450.16,294.32 450.33,302.01 450.51,300.03 450.68,308.61 450.86,307.25 451.03,312.28 451.21,310.05 451.38,308.99 451.56,300.30 451.73,299.12 451.91,286.56 452.08,292.86 452.26,277.73 452.43,292.52 452.61,288.02 452.78,301.80 452.95,300.23 453.13,307.03 453.30,300.72 453.48,292.20 453.65,282.30 453.83,272.77 454.00,265.78 454.18,263.20 454.35,265.78 454.53,272.77 454.70,282.30 454.88,292.20 455.05,300.72 455.23,307.03 455.40,311.13 455.58,313.18 455.75,311.02 455.92,312.23 456.10,309.41 456.27,311.23 456.45,309.46 456.62,311.84 456.80,309.79 456.97,313.60 457.15,310.54 457.32,313.44 457.50,310.89 457.67,313.07 457.85,311.23 458.02,313.30 458.20,311.50 458.37,313.78 458.55,312.21 458.72,313.59 458.89,311.91 459.07,312.95 459.24,310.78 459.42,312.27 459.59,309.33 459.77,311.19 459.94,309.20 460.12,311.26 460.29,309.25 460.47,312.25 460.64,310.74 460.82,313.30 460.99,312.70 461.17,313.70 461.34,312.52 461.52,313.55 461.69,312.51 461.86,313.78 462.04,312.47 462.21,313.74 462.39,312.09 462.56,313.53 462.74,310.96 462.91,313.26 463.09,311.59 463.26,312.43 463.44,308.75 463.61,303.09 463.79,296.34 463.96,290.65 464.14,288.40 464.31,290.65 464.49,296.34 464.66,303.09 464.83,308.75 465.01,312.43 465.18,309.91 465.36,313.37 465.53,310.72 465.71,310.74 465.88,305.43 466.06,307.47 466.23,302.55 466.41,306.71 466.58,305.45 466.76,310.79 466.93,310.27 467.11,313.05 467.28,311.18 467.45,307.80 467.63,301.34 467.80,293.65 467.98,287.16 468.15,284.60 468.33,287.16 468.50,293.65 468.68,301.34 468.85,307.80 469.03,311.99 469.20,313.47 469.38,311.73 469.55,313.84 469.73,312.12 469.90,313.39 470.08,311.96 470.25,313.75 470.42,312.38 470.60,313.76 470.77,312.25 470.95,313.69 471.12,312.65 471.30,313.61 471.47,312.28 471.65,313.57 471.82,311.98 472.00,313.29 472.17,311.45 472.35,313.76 472.52,310.66 472.70,313.10 472.87,311.24 473.05,311.81 473.22,308.96 473.39,311.09 473.57,308.75 473.74,311.31 473.92,308.91 474.09,311.60 474.27,311.25 474.44,313.15 474.62,312.78 474.79,313.68 474.97,312.79 475.14,313.62 475.32,312.66 475.49,313.46 475.67,312.30 475.84,313.51 476.02,312.44 476.19,313.65 476.36,311.66 476.54,313.35 476.71,311.35 476.89,313.86 477.06,310.37 477.24,313.48 477.41,310.80 477.59,313.69 477.76,310.61 477.94,313.03 478.11,311.41 478.29,311.87 478.46,308.62 478.64,310.08 478.81,307.44 478.99,309.99 479.16,306.30 479.33,309.45 479.51,307.28 479.68,310.87 479.86,309.34 480.03,311.75 480.21,311.24 480.38,313.72 480.56,310.90 480.73,312.85 480.91,310.63 481.08,313.23 481.26,310.71 481.43,312.76 481.61,310.54 481.78,313.51 481.96,310.39 482.13,313.63 482.30,311.66 482.48,313.21 482.65,311.98 482.83,313.78 483.00,312.92 483.18,313.57 483.35,312.94 483.53,313.59 483.70,312.89 483.88,313.84 484.05,312.88 484.23,313.67 484.40,312.49 484.58,311.02 484.75,306.71 484.92,301.31 485.10,296.60 485.27,294.70 485.45,296.60 485.62,301.31 485.80,306.71 485.97,311.02 486.15,310.95 486.32,313.02 486.50,310.73 486.67,313.73 486.85,310.16 487.02,313.68 487.20,310.63 487.37,313.06 487.55,310.69 487.72,313.28 487.89,310.50 488.07,313.60 488.24,310.91 488.42,312.13 488.59,309.03 488.77,311.11 488.94,308.26 489.12,309.85 489.29,307.57 489.47,310.89 489.64,309.09 489.82,311.97 489.99,311.92 490.17,313.66 490.34,312.73 490.52,313.72 490.69,312.89 490.86,313.78 491.04,312.80 491.21,313.72 491.39,312.81 491.56,313.60 491.74,312.92 491.91,313.79 492.09,312.91 492.26,313.74 492.44,312.28 492.61,313.55 492.79,311.92 492.96,313.81 493.14,312.24 493.31,313.39 493.49,312.84 493.66,313.81 493.83,312.71 494.01,313.73 494.18,311.66 494.36,306.36 494.53,297.64 494.71,286.70 494.88,277.14 495.06,273.30 495.23,277.14 495.41,286.70 495.58,297.64 495.76,306.36 495.93,310.72 496.11,313.09 496.28,310.94 496.46,313.51 496.63,310.86 496.80,312.94 496.98,311.10 497.15,313.35 497.33,311.98 497.50,313.31 497.68,312.28 497.85,313.37 498.03,312.12 498.20,313.20 498.38,312.14 498.55,313.64 498.73,311.07 498.90,312.34 499.08,309.53 499.25,311.57 499.43,309.54 499.60,312.00 499.77,311.33 499.95,313.47 500.12,312.16 500.30,313.77 500.47,312.36 500.65,313.85 500.82,312.49 501.00,313.69 501.17,312.67 501.35,313.81 501.52,312.04 501.70,311.80 501.87,307.78 502.05,308.83 502.22,304.11 502.39,308.67 502.57,304.56 502.74,309.67 502.92,308.63 503.09,311.97 503.27,311.35 503.44,313.02 503.62,311.22 503.79,313.63 503.97,310.80 504.14,313.72 504.32,310.32 504.49,312.82 504.67,310.32 504.84,312.80 505.02,311.09 505.19,313.00 505.36,311.53 505.54,313.46 505.71,311.62 505.89,313.17 506.06,310.91 506.24,312.41 506.41,310.63 506.59,311.88 506.76,310.83 506.94,313.02 507.11,312.78 507.29,313.77 507.46,312.72 507.64,313.37 507.81,311.65 507.99,313.67 508.16,311.08 508.33,313.32 508.51,310.90 508.68,313.41 508.86,311.50 509.03,313.81 509.21,312.23 509.38,313.73 509.56,312.55 509.73,313.67 509.91,311.94 510.08,313.25 510.26,311.52 510.43,312.21 510.61,309.04 510.78,310.58 510.96,307.44 511.13,309.46 511.30,306.95 511.48,310.33 511.65,309.22 511.83,312.19 512.00,311.49 512.18,313.30 512.35,311.54 512.53,313.30 512.70,312.00 512.88,313.69 513.05,312.16 513.23,313.55 513.40,312.10 513.58,313.65 513.75,312.39 513.93,313.34 514.10,312.34 514.27,313.75 514.45,311.80 514.62,308.30 514.80,302.26 514.97,295.07 515.15,289.00 515.32,286.60 515.50,289.00 515.67,295.07 515.85,302.26 516.02,308.30 516.20,312.22 516.37,313.74 516.55,312.89 516.72,313.77 516.90,312.90 517.07,313.67 517.24,312.88 517.42,313.83 517.59,312.52 517.77,313.61 517.94,312.85 518.12,313.53 518.29,312.60 518.47,313.65 518.64,312.13 518.82,312.60 518.99,309.97 519.17,311.83 519.34,309.76 519.52,311.87 519.69,310.45 519.86,312.92 520.04,311.20 520.21,313.43 520.39,310.41 520.56,312.98 520.74,311.65 520.91,313.62 521.09,312.01 521.26,313.53 521.44,312.56 521.61,313.71 521.79,313.02 521.96,313.75 522.14,312.91 522.31,313.62 522.49,312.55 522.66,309.64 522.83,305.53 523.01,300.94 523.18,297.23 523.36,295.80 523.53,297.23 523.71,300.94 523.88,305.53 524.06,309.64 524.23,312.55 524.41,313.67 524.58,311.76 524.76,313.37 524.93,311.25 525.11,313.04 525.28,309.77 525.46,313.37 525.63,311.23 525.80,313.81 525.98,312.42 526.15,313.74 526.33,312.59 526.50,313.82 526.68,312.82 526.85,313.59 527.03,312.40 527.20,313.40 527.38,312.31 527.55,313.84" fill="none" stroke="#4c72b0" stroke-width="2.3" stroke-linejoin="round" stroke-linecap="butt"/>
<text x="440.70000000000005" y="204.6" text-anchor="middle" font-size="14.5" font-weight="bold">(d)</text>
<text x="353.8" y="343.3" text-anchor="middle" font-size="13.6">0</text>
<text x="440.95000000000005" y="343.3" text-anchor="middle" font-size="13.6">500</text>
<text x="528.1" y="343.3" text-anchor="middle" font-size="13.6">1000</text>
<text x="333.30" y="231.6" text-anchor="end" font-size="13.6">5000</text>
<text x="333.30" y="276.0" text-anchor="end" font-size="13.6">2500</text>
<text x="333.30" y="320.40000000000003" text-anchor="end" font-size="13.6">0</text>
<text x="440.70000000000005" y="362.1" text-anchor="middle" font-size="15.2">Timestamp</text>
<text transform="translate(290.4,266.25) rotate(-90)" text-anchor="middle" font-size="15.2">Value</text>
</svg>
</body></html>
